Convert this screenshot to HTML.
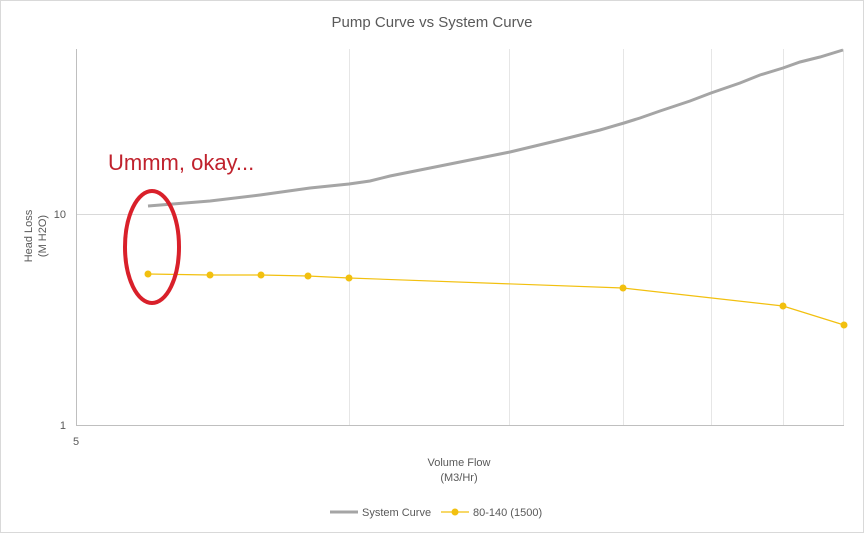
<!DOCTYPE html>
<html><head><meta charset="utf-8"><style>
html,body{margin:0;padding:0;background:#fff;}
svg{display:block;font-family:"Liberation Sans",sans-serif;}
</style></head><body>
<svg width="865" height="533" viewBox="0 0 865 533">
<rect x="0.5" y="0.5" width="863" height="532" fill="#fff" stroke="#d9d9d9"/>
<text x="432" y="27" text-anchor="middle" font-size="15" fill="#595959">Pump Curve vs System Curve</text>
<g stroke="#e6e6e6" stroke-width="1">
<line x1="349.5" y1="49" x2="349.5" y2="426"/>
<line x1="509.5" y1="49" x2="509.5" y2="426"/>
<line x1="623.5" y1="49" x2="623.5" y2="426"/>
<line x1="711.5" y1="49" x2="711.5" y2="426"/>
<line x1="783.5" y1="49" x2="783.5" y2="426"/>
<line x1="843.5" y1="49" x2="843.5" y2="426"/>
</g>
<line x1="76" y1="214.5" x2="844" y2="214.5" stroke="#d9d9d9"/>
<line x1="76.5" y1="49" x2="76.5" y2="426" stroke="#bfbfbf"/>
<line x1="76" y1="425.5" x2="844" y2="425.5" stroke="#bfbfbf"/>
<g font-size="11" fill="#595959">
<text x="66" y="218" text-anchor="end">10</text>
<text x="66" y="429" text-anchor="end">1</text>
<text x="76" y="445" text-anchor="middle">5</text>
<text x="459" y="466" text-anchor="middle">Volume Flow</text>
<text x="459" y="481" text-anchor="middle">(M3/Hr)</text>
<text transform="translate(32,236) rotate(-90)" text-anchor="middle">Head Loss</text>
<text transform="translate(46,236) rotate(-90)" text-anchor="middle">(M H2O)</text>
</g>
<polyline fill="none" stroke="#a5a5a5" stroke-width="3" points="148,206 210,201 260,195 310,188 349,184 370,181 390,176 440,166 510,152 560,140 600,130 624,123 640,118 660,111 690,101 711,93 740,83 760,75 783,68 800,62 820,57 843,50"/>
<polyline fill="none" stroke="#f2c00f" stroke-width="1.2" points="148,274 210,275 261,275 308,276 349,278 623,288 783,306 844,325"/>
<g fill="#f2c00f">
<circle cx="148" cy="274" r="3.5"/><circle cx="210" cy="275" r="3.5"/><circle cx="261" cy="275" r="3.5"/><circle cx="308" cy="276" r="3.5"/><circle cx="349" cy="278" r="3.5"/><circle cx="623" cy="288" r="3.5"/><circle cx="783" cy="306" r="3.5"/><circle cx="844" cy="325" r="3.5"/>
</g>
<ellipse cx="152" cy="247" rx="27" ry="56" fill="none" stroke="#d9202a" stroke-width="4"/>
<text x="108" y="170" font-size="22" fill="#c0222d">Ummm, okay...</text>
<line x1="330" y1="512" x2="358" y2="512" stroke="#a5a5a5" stroke-width="3"/>
<text x="362" y="516" font-size="11" fill="#595959">System Curve</text>
<line x1="441" y1="512" x2="469" y2="512" stroke="#f2c00f" stroke-width="1.2"/>
<circle cx="455" cy="512" r="3.5" fill="#f2c00f"/>
<text x="473" y="516" font-size="11" fill="#595959">80-140 (1500)</text>
</svg>
</body></html>
